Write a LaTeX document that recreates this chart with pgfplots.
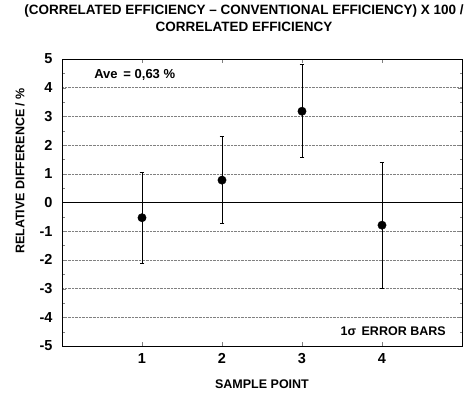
\documentclass[border=0pt]{standalone}
\usepackage{pgfplots}
\pgfplotsset{compat=1.18}
\usepackage{fontspec}
\setmainfont{Liberation Sans}
\begin{document}
\begin{tikzpicture}[x=1bp,y=1bp]
\path[use as bounding box] (-62,-51) rectangle (412,346);
\begin{axis}[
  at={(0,0)}, anchor=south west,
  scale only axis,
  width=400bp, height=287bp,
  xmin=0, xmax=5, ymin=-5, ymax=5,
  xtick={1,2,3,4},
  ytick={-5,-4,...,5},
  minor y tick num=1,
  tick align=inside,
  tick pos=both,
  major tick length=4bp,
  minor tick length=2.5bp,
  ymajorgrids,
  major grid style={densely dotted, gray, line width=0.6pt},
  /pgf/number format/assume math mode=true,
  ticklabel style={font=\bfseries\fontsize{14.5bp}{16bp}\selectfont},
  xticklabel style={yshift=-4bp},
  yticklabel style={xshift=-6bp},
  label style={font=\bfseries\fontsize{12.5bp}{14bp}\selectfont},
  xlabel={SAMPLE POINT},
  ylabel={RELATIVE DIFFERENCE / \%},
  xlabel style={at={(axis description cs:0.5,-0.132)}, anchor=center},
  ylabel style={at={(axis description cs:-0.105,0.61)}, anchor=center},
  title={(CORRELATED EFFICIENCY -- CONVENTIONAL EFFICIENCY) X 100 /\\CORRELATED EFFICIENCY},
  title style={font=\bfseries\fontsize{13.5bp}{16.5bp}\selectfont, align=center, at={(axis description cs:0.455,1)}, anchor=south, yshift=18bp},
  axis line style={line width=0.9pt},
  clip=false,
]
\addplot[black, line width=0.8pt, forget plot] coordinates {(0,0) (5,0)};
\addplot[black, only marks, mark=*, mark size=4.2pt,
  error bars/.cd, y dir=both, y explicit,
  error bar style={line width=0.6pt},
  error mark options={rotate=90, mark size=2.5pt, line width=0.6pt}]
  coordinates {
  (1,-0.53) +- (0,1.58)
  (2,0.78) +- (0,1.52)
  (3,3.18) +- (0,1.62)
  (4,-0.79) +- (0,2.20)
};
\node[anchor=west, font=\bfseries\fontsize{13bp}{15bp}\selectfont] at (axis cs:0.36,4.44) {Ave\,\ = 0,63 \%};
\node[anchor=east, font=\bfseries\fontsize{12.5bp}{14bp}\selectfont] at (axis cs:4.84,-4.47) {1σ\,\ ERROR BARS};
\end{axis}
\end{tikzpicture}
\end{document}
